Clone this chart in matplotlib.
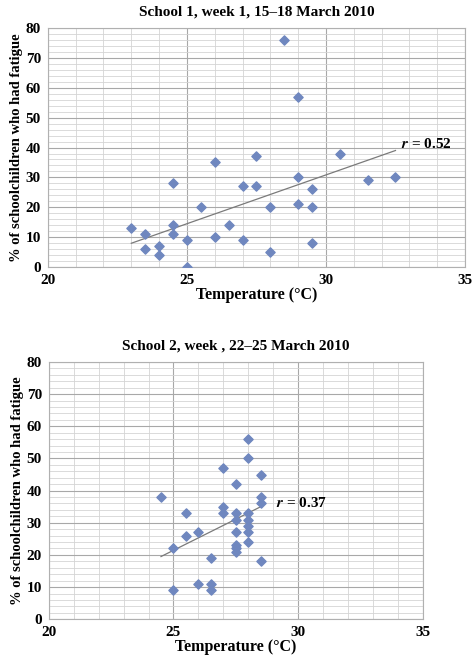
import matplotlib
matplotlib.use("Agg")
import matplotlib.pyplot as plt
from matplotlib.ticker import MultipleLocator

plt.rcParams['font.family'] = ['Liberation Serif', 'DejaVu Serif']
plt.rcParams['mathtext.fontset'] = 'stix'

t1 = [23,23.5,23.5,24,24,24.5,24.5,24.5,25,25,25.5,26,26,26.5,27,27,27.5,27.5,28,28,28.5,29,29,29,29.5,29.5,29.5,30.5,31.5,32.5]
f1 = [13,11,6,7,4,28,14,11,9,0,20,35,10,14,27,9,37,27,20,5,76,57,30,21,26,20,8,38,29,30]
trend1_x = [23, 32.5]
trend1_y = [8, 39]

t2 = [24.5,25,25,25.5,25.5,26,26,26.5,26.5,26.5,27,27,27,27.5,27.5,27.5,27.5,27.5,27.5,27.5,28,28,28,28,28,28,28,28.5,28.5,28.5,28.5]
f2 = [38,22,9,33,26,27,11,19,11,9,47,35,33,42,33,31,27,23,22,21,56,50,33,31,29,27,24,45,38,36,18]
trend2_x = [24.5, 28.5]
trend2_y = [19.5, 35]

fig = plt.figure(figsize=(4.74, 6.63), dpi=100)
ax1 = fig.add_axes([0.101, 0.597, 0.88, 0.361])
ax2 = fig.add_axes([0.103, 0.066, 0.789, 0.388])

def style(ax, title):
    ax.set_xlim(20, 35)
    ax.set_ylim(0, 80)
    ax.xaxis.set_major_locator(MultipleLocator(5))
    ax.xaxis.set_minor_locator(MultipleLocator(1))
    ax.yaxis.set_major_locator(MultipleLocator(10))
    ax.yaxis.set_minor_locator(MultipleLocator(2))
    ax.grid(which='major', color='#a8a8a8', lw=0.8)
    ax.grid(which='minor', color='#d4d4d4', lw=0.6)
    ax.set_axisbelow(True)
    for s in ax.spines.values():
        s.set_color('#b0b0b0')
    ax.tick_params(which='both', length=0, labelsize=11, pad=5)
    for lab in ax.get_xticklabels() + ax.get_yticklabels():
        lab.set_fontweight('bold')
    ax.set_title(title, fontsize=11, fontweight='bold', pad=9)
    ax.set_xlabel('Temperature (°C)', fontsize=11.5, fontweight='bold', labelpad=0)
    ax.set_ylabel('% of schoolchildren who had fatigue', fontsize=10.5, fontweight='bold', labelpad=2)

style(ax1, 'School 1, week 1, 15–18 March 2010')
style(ax2, 'School 2, week , 22–25 March 2010')

mc = '#6f87bf'
ax1.scatter(t1, f1, marker='D', s=22, color=mc, zorder=3)
ax1.plot(trend1_x, trend1_y, color='#7a7a7a', lw=0.9, zorder=2)
ax1.text(32.7, 40, r'$\mathbfit{r}$ = 0.52', fontsize=11, fontweight='bold')

ax2.scatter(t2, f2, marker='D', s=22, color=mc, zorder=3)
ax2.plot(trend2_x, trend2_y, color='#7a7a7a', lw=0.9, zorder=2)
ax2.text(29.1, 35, r'$\mathbfit{r}$ = 0.37', fontsize=11, fontweight='bold')

fig.savefig('out.png', dpi=100)
